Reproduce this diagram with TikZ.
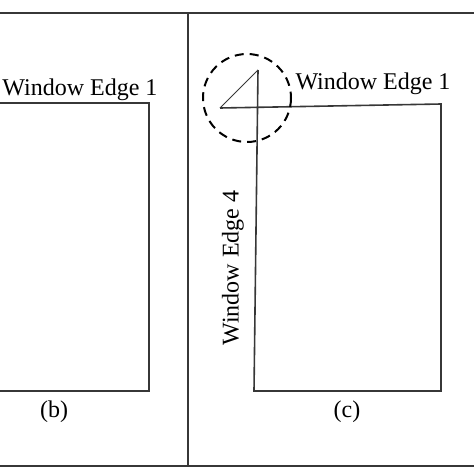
\documentclass[tikz,border=0pt]{standalone}
\usepackage{fontspec}
\setmainfont{Liberation Serif}
\usepackage{tikz}

\begin{document}
\begin{tikzpicture}[x=1pt,y=-1pt]

\def\W{474}; \def\tp{13}; \def\bt{466}; \def\dv{188};
\definecolor{edge}{RGB}{55,55,55};
\tikzset{lbl/.style={font=\fontsize{24}{26}\selectfont,inner sep=0pt}}

\useasboundingbox (0,0) rectangle (\W,\W);

%%Frame
\draw [line width=1.7pt,edge] (0,\tp)--(\W,\tp);
\draw [line width=1.7pt,edge] (0,\bt)--(\W,\bt);
\draw [line width=1.7pt,edge] (\dv,\tp)--(\dv,\bt);

%%Panel b
\draw [line width=1.6pt,edge] (-5,103)--(149,103)--(149,391)--(-5,391);
\node[lbl,anchor=base] (eb1) at (80,95) {Window Edge 1};
\node[lbl] (capb) at (54,412) {(b)};

%%Panel c
\draw [line width=1.6pt,edge] (258,70)--(254,391)--(441,391)--(441,104)--(220,108);
\draw [line width=0.9pt,edge] (220,108)--(258,70);
\draw [line width=2pt,dash pattern=on 9pt off 6pt] (247,98) circle (44);
\node[lbl,anchor=base] (ec1) at (373,89) {Window Edge 1};
\node[lbl,rotate=90] (ec4) at (233,268) {Window Edge 4};
\node[lbl] (capc) at (347,412) {(c)};

\end{tikzpicture}
\end{document}
